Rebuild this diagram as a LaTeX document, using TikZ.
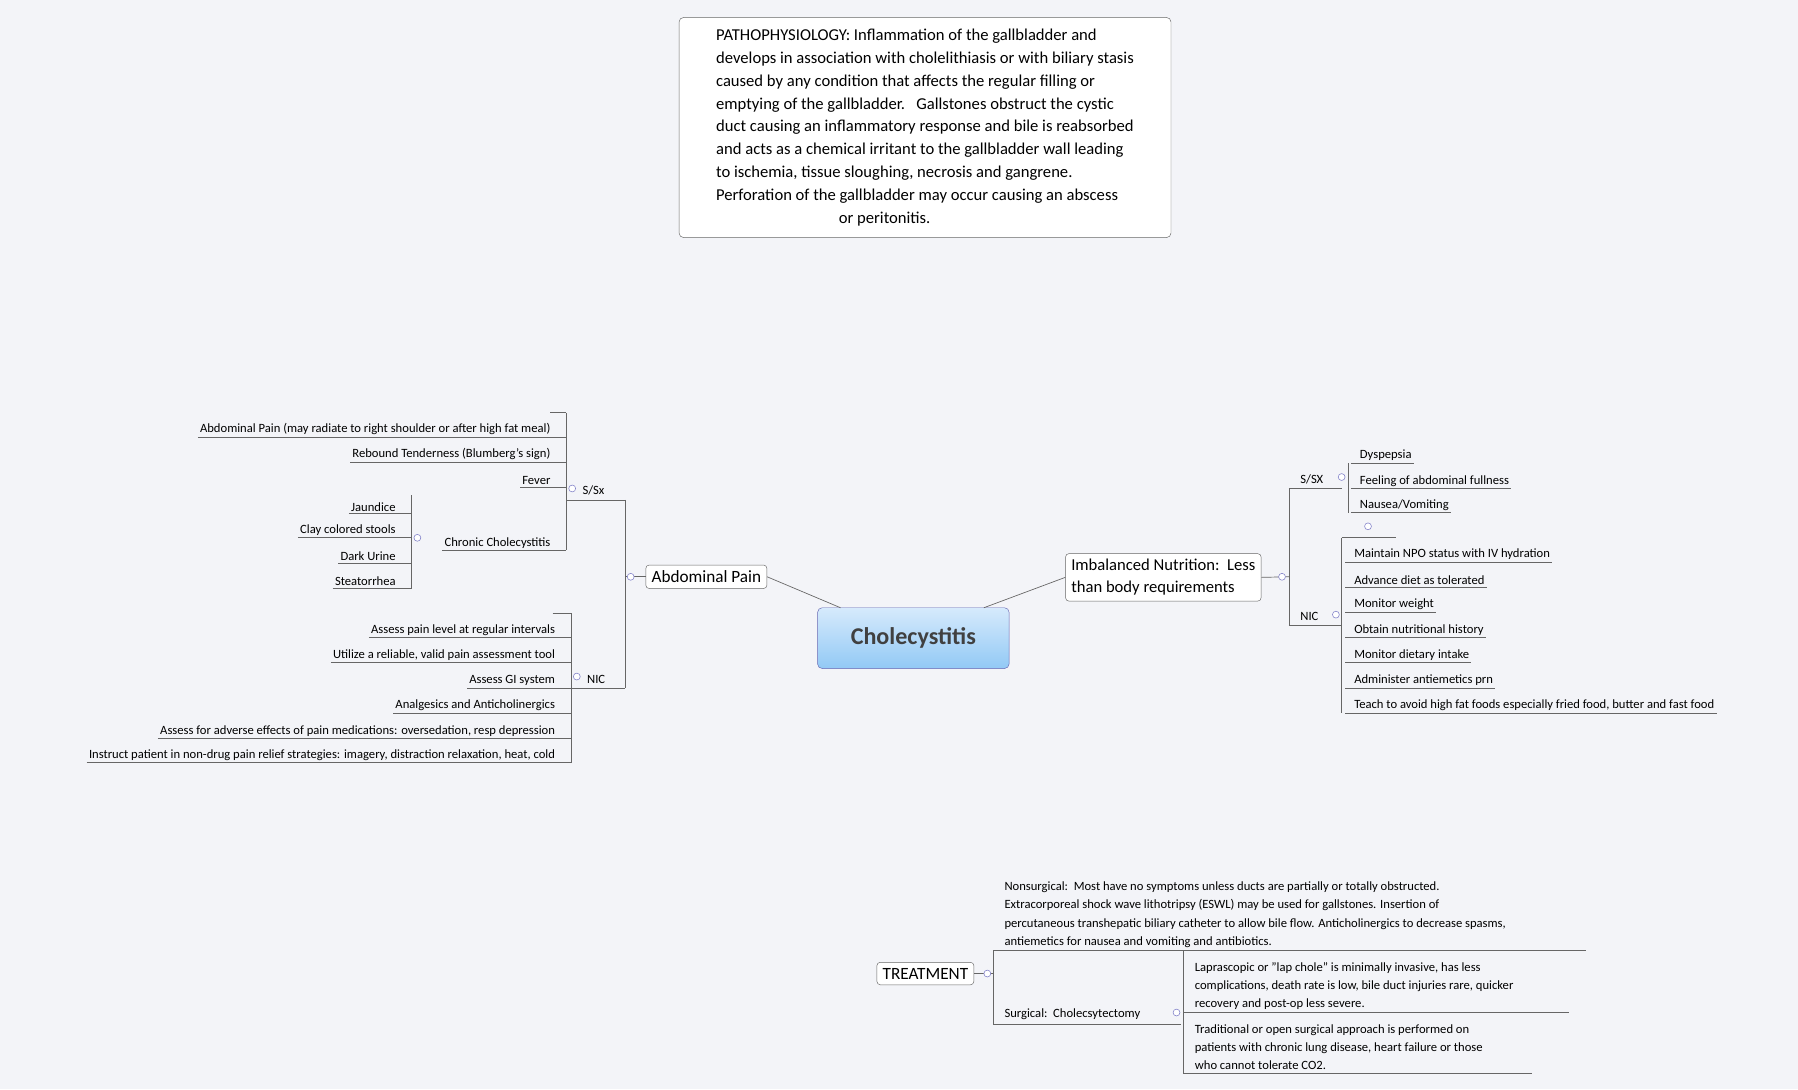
\documentclass[tikz,border=0pt]{standalone}
\usepackage{fontspec}
\setmainfont{Carlito}
\begin{document}
\begin{tikzpicture}[x=1pt,y=-1pt,
  ln/.style={draw=black!60,line width=0.6pt},
  it/.style={font=\fontsize{11}{13}\selectfont,inner sep=2pt,outer sep=0pt},
  bx/.style={draw=black!60,rounded corners=3pt,fill=white,font=\fontsize{15}{18}\selectfont,inner sep=5pt},
  cc/.style={draw=blue!40!gray!70,fill=white,circle,inner sep=0pt,minimum size=6pt,line width=0.5pt}]
\fill[fill={rgb,255:red,243;green,244;blue,248}] (0,0) rectangle (1568,950);
\useasboundingbox (0,0) rectangle (1568,950);
\newcommand\Litem[4]{\node[it,anchor=south east] (#1) at (#2,#3) {#4};\draw[ln] (#1.south west) -- (#1.south east) -- +(12,0);}
\newcommand\Ritem[4]{\node[it,anchor=south west] (#1) at (#2,#3) {#4};\draw[ln] (#1.south west) +(-6,0) -- (#1.south east);}
% patho
\node[draw=black!60,rounded corners=4pt,fill=white,align=left,font=\fontsize{14.5}{20}\selectfont,inner sep=5pt,anchor=north west,minimum width=429pt,minimum height=192pt] (patho) at (592,15) {PATHOPHYSIOLOGY: Inflammation of the gallbladder and\\ develops in association with cholelithiasis or with biliary stasis\\ caused by any condition that affects the regular filling or\\ emptying of the gallbladder.\ \ \ Gallstones obstruct the cystic\\ duct causing an inflammatory response and bile is reabsorbed\\ and acts as a chemical irritant to the gallbladder wall leading\\ to ischemia, tissue sloughing, necrosis and gangrene.\\ Perforation of the gallbladder may occur causing an abscess\\ \hspace*{107pt}or peritonitis.};
% center
\node[draw=blue!50!black!60,rounded corners=4pt,top color={rgb,255:red,214;green,234;blue,252},bottom color={rgb,255:red,146;green,201;blue,245},minimum width=167pt,minimum height=53pt,font=\fontsize{21}{24}\selectfont\bfseries,text=black!75] (root) at (796.5,556.5) {Cholecystitis};
\node[bx] (ap) at (616,503) {Abdominal Pain};
\node[bx,align=left,font=\fontsize{14.5}{19}\selectfont] (imb) at (1014.5,503.5) {Imbalanced Nutrition:\ \ Less\\than body requirements};
\draw[ln] (ap.east) -- (733,530);
\draw[ln] (imb.west) -- (858,530);
% left tree
\draw[ln] (ap.west) -- (545,503);
\draw[ln] (545,436) -- (545,600);
\node[it,anchor=south west] (ss) at (506,434) {S/Sx}; \draw[ln] (494,436) -- (545,436);
\node[it,anchor=south west] (nic) at (510,598) {NIC}; \draw[ln] (498,600) -- (545,600);
\draw[ln] (494,360) -- (494,480); \draw[ln] (480,360)--(494,360);
\Litem{a1}{482}{381}{Abdominal Pain (may radiate to right shoulder or after high fat meal)}
\Litem{a2}{482}{403}{Rebound Tenderness (Blumberg's sign)}
\Litem{a3}{482}{425}{Fever}
\Litem{a4}{482}{480}{Chronic Cholecystitis}
\draw[ln] (359,432) -- (359,513);
\Litem{c1}{347}{448}{Jaundice}
\Litem{c2}{347}{469}{Clay colored stools}
\Litem{c3}{347}{491}{Dark Urine}
\Litem{c4}{347}{513}{Steatorrhea}
\draw[ln] (498,535) -- (498,665); \draw[ln] (482,535)--(498,535);
\Litem{n1}{486}{556}{Assess pain level at regular intervals}
\Litem{n2}{486}{578}{Utilize a reliable, valid pain assessment tool}
\Litem{n3}{486}{600}{Assess GI system}
\Litem{n4}{486}{622}{Analgesics and Anticholinergics}
\Litem{n5}{486}{644}{Assess for adverse effects of pain medications: oversedation, resp depression}
\Litem{n6}{486}{665}{Instruct patient in non-drug pain relief strategies: imagery, distraction relaxation, heat, cold}
\node[cc] at (550,503) {}; \node[cc] at (499,426) {}; \node[cc] at (503,590) {}; \node[cc] at (364,469) {};
% right tree
\draw[ln] (imb.east) -- (1124,503);
\draw[ln] (1124,426) -- (1124,545);
\node[it,anchor=south west] (rs) at (1132,424) {S/SX}; \draw[ln] (1124,426) -- (1170,426);
\node[it,anchor=south west] (rn) at (1132,543) {NIC}; \draw[ln] (1124,545) -- (1170,545);
\draw[ln] (1176,404) -- (1176,447);
\Ritem{r1}{1184}{404}{Dyspepsia}
\Ritem{r2}{1184}{426}{Feeling of abdominal fullness}
\Ritem{r3}{1184}{447}{Nausea/Vomiting}
\draw[ln] (1170,469) -- (1170,622);
\draw[ln] (1170,469) -- (1217,469);
\Ritem{m1}{1179}{490}{Maintain NPO status with IV hydration}
\Ritem{m2}{1179}{512}{Advance diet as tolerated}
\Ritem{m3}{1179}{534}{Monitor weight}
\Ritem{m4}{1179}{556}{Obtain nutritional history}
\Ritem{m5}{1179}{578}{Monitor dietary intake}
\Ritem{m6}{1179}{600}{Administer antiemetics prn}
\Ritem{m7}{1179}{622}{Teach to avoid high fat foods especially fried food, butter and fast food}
\node[cc] at (1118,503) {}; \node[cc] at (1170,416) {}; \node[cc] at (1165,536) {}; \node[cc] at (1193,459) {};
% treatment
\node[bx] (tr) at (807,849) {TREATMENT};
\draw[ln] (tr.east) -- (866,849);
\draw[ln] (866,829) -- (866,893);
\node[it,anchor=south west,align=left,font=\fontsize{11}{15.7}\selectfont] (ns) at (874,828) {Nonsurgical:\ \ Most have no symptoms unless ducts are partially or totally obstructed.\\Extracorporeal shock wave lithotripsy (ESWL) may be used for gallstones. Insertion of\\percutaneous transhepatic biliary catheter to allow bile flow. Anticholinergics to decrease spasms,\\antiemetics for nausea and vomiting and antibiotics.};
\draw[ln] (866,829) -- (1383,829);
\node[it,anchor=south west] (sg) at (874,891) {Surgical:\ \ Cholecsytectomy}; \draw[ln] (866,893) -- (1030,893);
\draw[ln] (1032,829) -- (1032,936);
\node[it,anchor=south west,align=left,font=\fontsize{11}{15.7}\selectfont] (s1) at (1040,882) {Laprascopic or "lap chole" is minimally invasive, has less\\complications, death rate is low, bile duct injuries rare, quicker\\recovery and post-op less severe.};
\draw[ln] (1032,883) -- (1368,883);
\node[it,anchor=south west,align=left,font=\fontsize{11}{15.7}\selectfont] (s2) at (1040,935) {Traditional or open surgical approach is performed on\\patients with chronic lung disease, heart failure or those\\who cannot tolerate CO2.};
\draw[ln] (1032,936) -- (1336,936);
\node[cc] at (861,849) {}; \node[cc] at (1026,883) {};
\end{tikzpicture}
\end{document}
